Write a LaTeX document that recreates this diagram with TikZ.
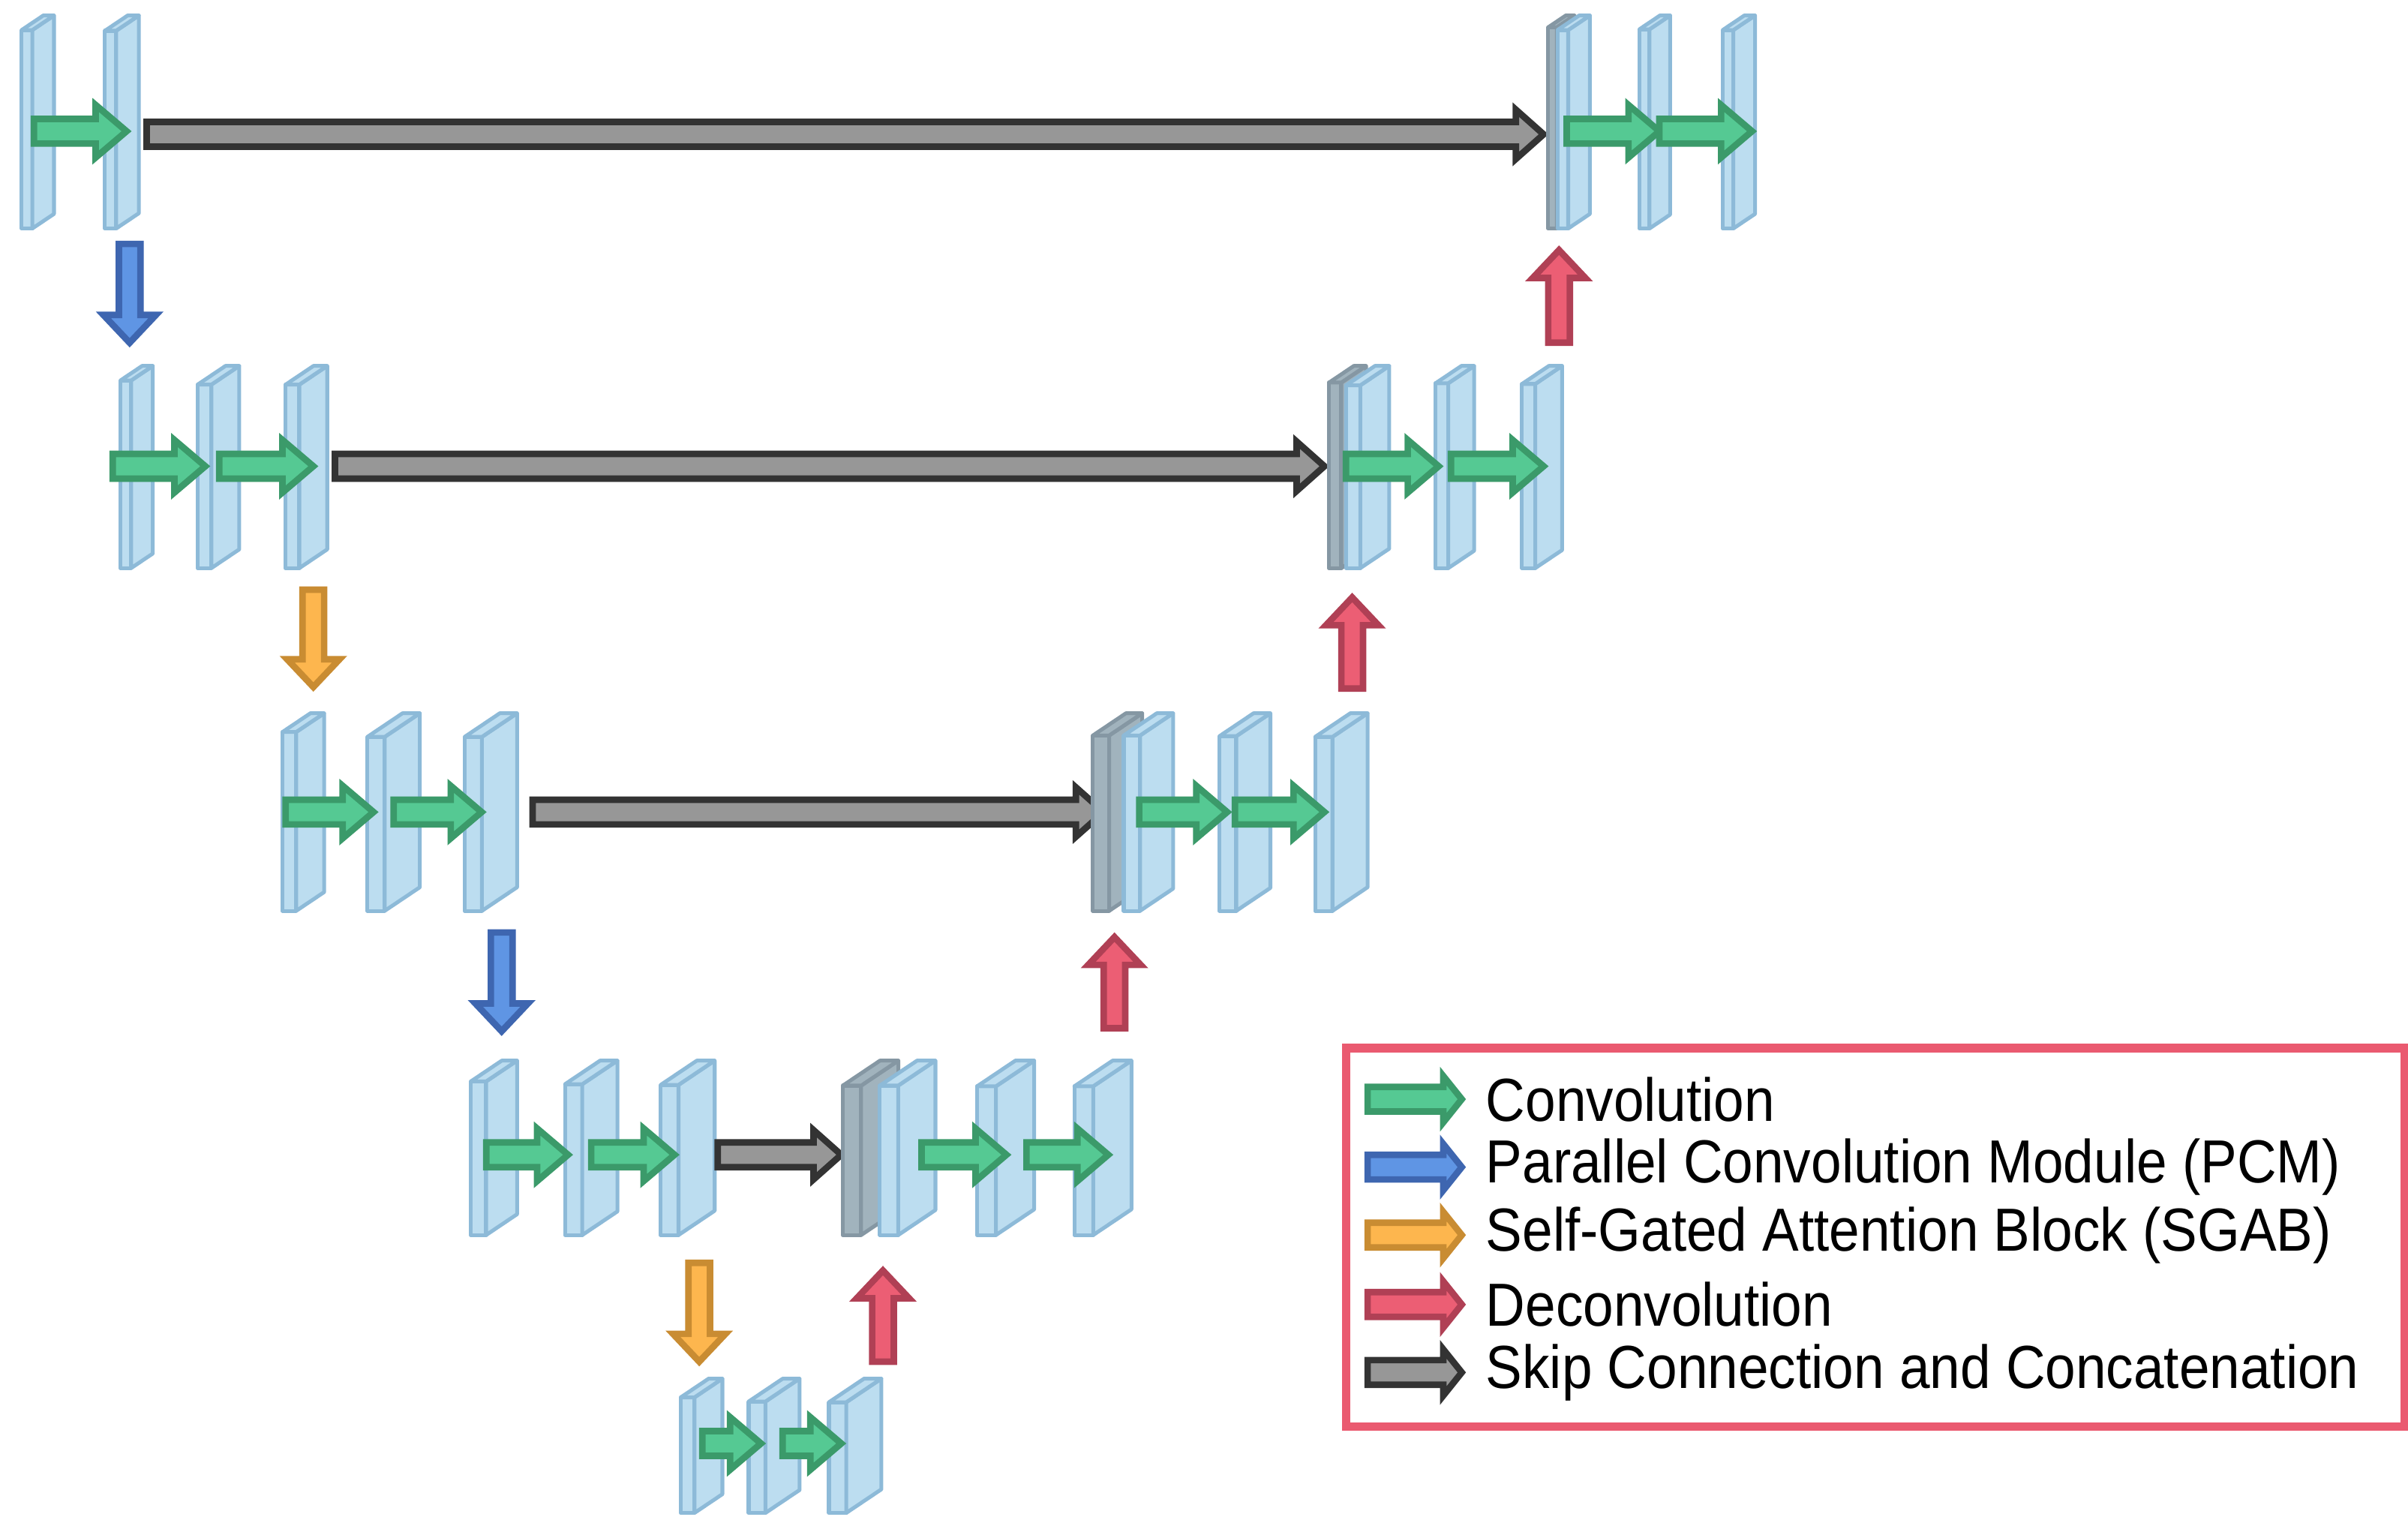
\documentclass[tikz,border=0pt]{standalone}
\usepackage{fontspec}
\setmainfont{Liberation Sans}
\definecolor{slabf}{HTML}{BCDDF0}
\definecolor{slabd}{HTML}{8DBAD8}
\definecolor{convf}{HTML}{55C993}
\definecolor{convd}{HTML}{3B9A6A}
\definecolor{pcmf}{HTML}{5F95E4}
\definecolor{pcmd}{HTML}{3E66B0}
\definecolor{sgabf}{HTML}{FDB64E}
\definecolor{sgabd}{HTML}{C98C32}
\definecolor{deconvf}{HTML}{EC5E74}
\definecolor{deconvd}{HTML}{B04055}
\definecolor{skipf}{HTML}{979797}
\definecolor{legbox}{HTML}{EA5A70}
\tikzset{
  slab/.style={fill=slabf,draw=slabd,line width=0.7pt,line join=round},
  catslab/.style={fill=gray!45!slabf,draw=gray!60!slabd,line width=0.7pt,line join=round},
}
% slab: x1, x2, ytop, ybot, style
\newcommand{\slabbox}[5]{%
  \pgfmathsetmacro{\sw}{#2-#1}\pgfmathsetmacro{\sd}{0.45*\sw}%
  \pgfmathsetmacro{\sf}{#1+0.33*\sw}%
  \draw[#5] (#1,#3+\sd) rectangle (\sf,#4);
  \draw[#5] (\sf,#3+\sd) -- (#2,#3) -- (#2,#4-\sd) -- (\sf,#4) -- cycle;
  \draw[#5] (#1,#3+\sd) -- (#1+#2-\sf,#3) -- (#2,#3) -- (\sf,#3+\sd) -- cycle;}
% horizontal block arrow: x1, x2, y, fill, draw, shaft half, head half, head length
\newcommand{\harrow}[8]{%
  \fill[#4,draw=#5,line width=1.2pt,line join=miter]
    (#1,#3-#6) -- (#2-#8,#3-#6) -- (#2-#8,#3-#7) -- (#2,#3) -- (#2-#8,#3+#7)
    -- (#2-#8,#3+#6) -- (#1,#3+#6) -- cycle;}
% vertical block arrow: x, y1 (tail), y2 (tip), fill, draw
\newcommand{\varrow}[5]{%
  \pgfmathsetmacro{\vs}{(#3>#2)?1:-1}%
  \fill[#4,draw=#5,line width=1.2pt,line join=miter]
    (#1-7,#2) -- (#1-7,#3-\vs*18) -- (#1-17,#3-\vs*18) -- (#1,#3) -- (#1+17,#3-\vs*18)
    -- (#1+7,#3-\vs*18) -- (#1+7,#2) -- cycle;}
\newcommand{\conv}[3]{\harrow{#1}{#2}{#3}{convf}{convd}{8}{17}{20}}
\newcommand{\skipc}[3]{\harrow{#1}{#2}{#3}{skipf}{black!80}{8}{16}{18}}
\begin{document}
\begin{tikzpicture}[x=0.01cm,y=-0.01cm]
\useasboundingbox (0,0) rectangle (1560,986.5);
% ---- row 1
\slabbox{14}{35}{10}{148}{slab}
\slabbox{68}{90}{10}{148}{slab}
\conv{22}{82}{85}
\skipc{95}{1000}{87}
\slabbox{1003}{1020}{10}{148}{catslab}
\slabbox{1009}{1030}{10}{148}{slab}
\slabbox{1062}{1082}{10}{148}{slab}
\slabbox{1116}{1137}{10}{148}{slab}
\conv{1015}{1075}{85}
\conv{1075}{1135}{85}
\varrow{84}{158}{222}{pcmf}{pcmd}
\varrow{1010}{222}{162}{deconvf}{deconvd}
% ---- row 2
\slabbox{78}{99}{237}{368}{slab}
\slabbox{128}{155}{237}{368}{slab}
\slabbox{185}{212}{237}{368}{slab}
\conv{73}{133}{302}
\conv{142}{203}{302}
\skipc{217}{858}{302}
\slabbox{861}{885}{237}{368}{catslab}
\slabbox{872}{900}{237}{368}{slab}
\slabbox{930}{955}{237}{368}{slab}
\slabbox{986}{1012}{237}{368}{slab}
\conv{872}{932}{302}
\conv{940}{1000}{302}
\varrow{203}{382}{445}{sgabf}{sgabd}
\varrow{876}{446}{387}{deconvf}{deconvd}
% ---- row 3
\slabbox{183}{210}{462}{590}{slab}
\slabbox{238}{272}{462}{590}{slab}
\slabbox{301}{335}{462}{590}{slab}
\conv{185}{242}{526}
\conv{255}{312}{526}
\skipc{345}{715}{526}
\slabbox{708}{740}{462}{590}{catslab}
\slabbox{728}{760}{462}{590}{slab}
\slabbox{790}{823}{462}{590}{slab}
\slabbox{852}{886}{462}{590}{slab}
\conv{738}{795}{526}
\conv{800}{858}{526}
\varrow{325}{604}{668}{pcmf}{pcmd}
\varrow{722}{666}{607}{deconvf}{deconvd}
% ---- row 4
\slabbox{305}{335}{687}{800}{slab}
\slabbox{366}{400}{687}{800}{slab}
\slabbox{428}{463}{687}{800}{slab}
\conv{315}{368}{748}
\conv{383}{437}{748}
\skipc{465}{545}{748}
\slabbox{546}{582}{687}{800}{catslab}
\slabbox{570}{606}{687}{800}{slab}
\slabbox{633}{670}{687}{800}{slab}
\slabbox{696}{733}{687}{800}{slab}
\conv{597}{652}{748}
\conv{665}{718}{748}
\varrow{453}{818}{882}{sgabf}{sgabd}
\varrow{572}{882}{823}{deconvf}{deconvd}
% ---- row 5
\slabbox{441}{468}{893}{980}{slab}
\slabbox{485}{518}{893}{980}{slab}
\slabbox{537}{571}{893}{980}{slab}
\conv{455}{493}{935}
\conv{507}{545}{935}
% ---- legend
\draw[legbox,line width=1.6pt] (872,679) rectangle (1558,924);
\harrow{886}{947}{712}{convf}{convd}{8}{15}{12}
\harrow{886}{947}{756}{pcmf}{pcmd}{8}{15}{12}
\harrow{886}{947}{800}{sgabf}{sgabd}{8}{15}{12}
\harrow{886}{947}{845}{deconvf}{deconvd}{8}{15}{12}
\harrow{886}{947}{889}{skipf}{black!80}{8}{15}{12}
\begin{scope}[every node/.style={anchor=west,inner sep=0pt,xscale=0.9,font=\fontsize{11.2}{13}\selectfont}]
\node (l1) at (962,712) {Convolution};
\node (l2) at (962,756) {Parallel Convolution Module (PCM)};
\node (l3) at (962,800) {Self-Gated Attention Block (SGAB)};
\node (l4) at (962,845) {Deconvolution};
\node (l5) at (962,889) {Skip Connection and Concatenation};
\end{scope}
\end{tikzpicture}
\end{document}
